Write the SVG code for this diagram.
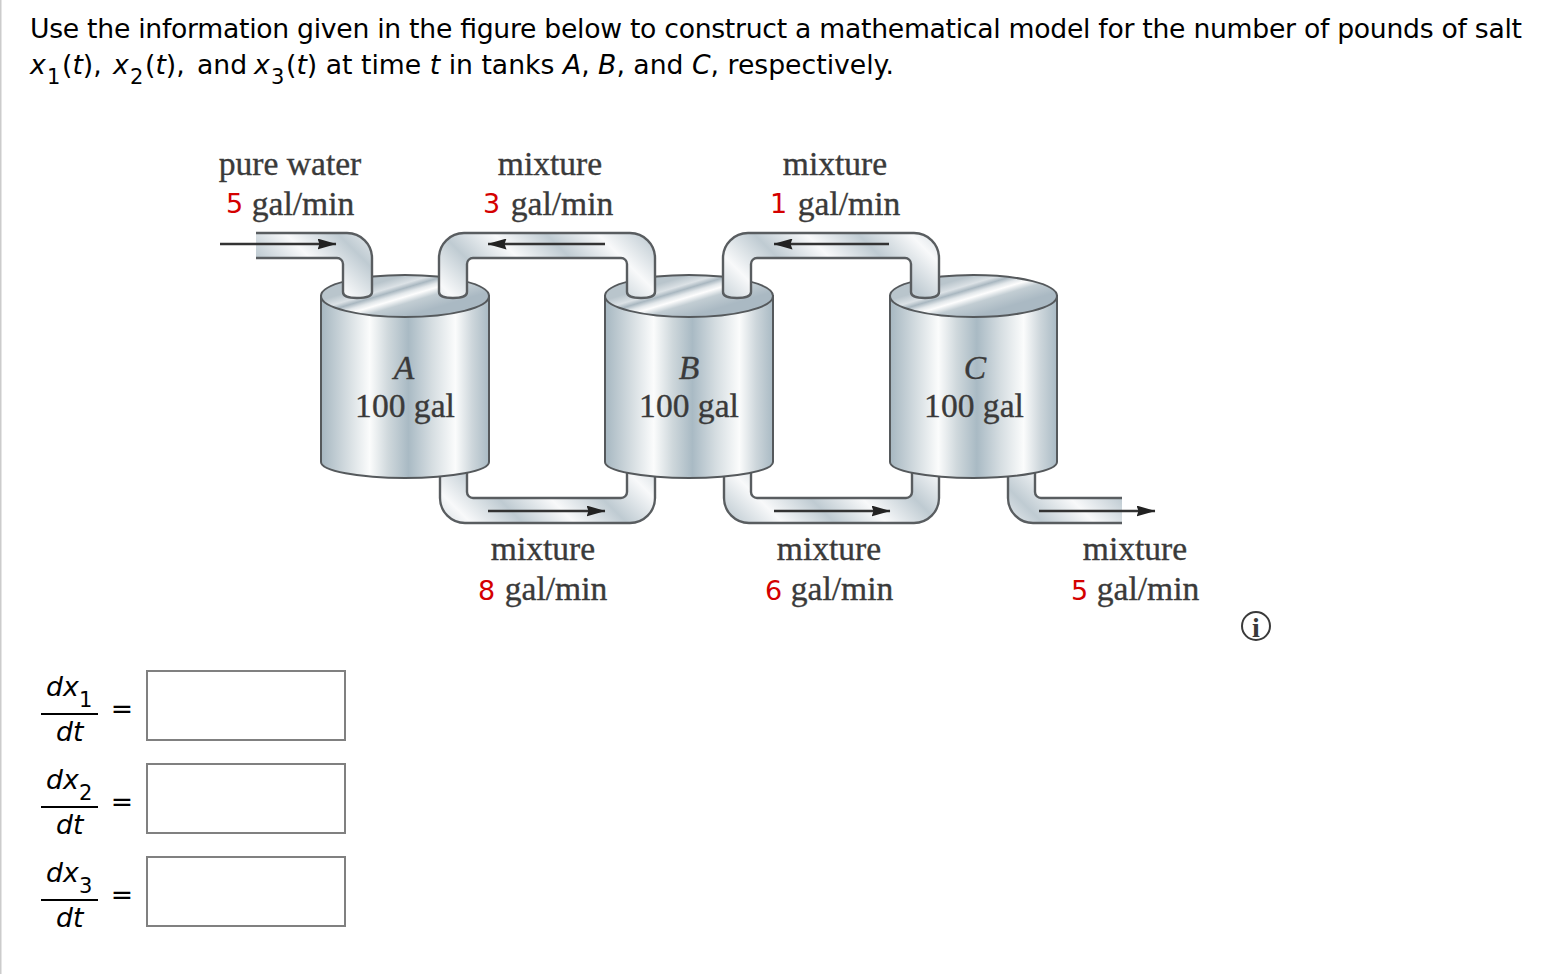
<svg xmlns="http://www.w3.org/2000/svg" width="1548" height="974" viewBox="0 0 1548 974">
<style>
.s{font-family:"DejaVu Sans","Liberation Sans",sans-serif;fill:#000}
.t{font-size:26.67px}
.i{font-style:italic}
.sub{font-size:21px}
.f{font-family:"Liberation Serif",serif;font-size:33.6px;fill:#3a3a3a;stroke:#3a3a3a;stroke-width:.35}
.r{font-family:"DejaVu Sans",sans-serif;font-size:27px;fill:#d40000}
.pipe{stroke:#595d60;stroke-width:2.4;stroke-linejoin:round}
.body{fill:url(#tank);stroke:#55595c;stroke-width:2}
.arr{fill:none;stroke:#333;stroke-width:2.6;marker-end:url(#ah)}
.box{fill:#fff;stroke:#808080;stroke-width:2}
.bar{stroke:#000;stroke-width:2}
</style>
<defs>
<linearGradient id="tank" x1="0" x2="1" y1="0" y2="0">
<stop offset="0" stop-color="#a6b7c1"/><stop offset=".16" stop-color="#d5dde1"/><stop offset=".29" stop-color="#fbfcfc"/><stop offset=".4" stop-color="#cfd8dc"/><stop offset=".52" stop-color="#a9bac4"/><stop offset=".66" stop-color="#d5dde1"/><stop offset=".8" stop-color="#fbfcfc"/><stop offset=".9" stop-color="#cdd6db"/><stop offset="1" stop-color="#a9bac4"/>
</linearGradient>
<linearGradient id="lidA" gradientUnits="userSpaceOnUse" x1="399.200" y1="276.700" x2="410.800" y2="315.300">
<stop offset="0" stop-color="#b9c5cc"/><stop offset=".2" stop-color="#dce2e6"/><stop offset=".31" stop-color="#a9b7c0"/><stop offset=".42" stop-color="#e2e7ea"/><stop offset=".52" stop-color="#fdfdfd"/><stop offset=".68" stop-color="#c2cdd3"/><stop offset="1" stop-color="#aab9c3"/>
</linearGradient>
<linearGradient id="lidB" href="#lidA" gradientTransform="translate(284 0)"/>
<linearGradient id="lidC" href="#lidA" gradientTransform="translate(568.500 0)"/>
<linearGradient id="pipeH" gradientUnits="userSpaceOnUse" x1="0" y1="0" x2="26" y2="-26" spreadMethod="reflect">
<stop offset="0" stop-color="#bfcbd2"/><stop offset="1" stop-color="#f8f9fa"/>
</linearGradient>
<marker id="ah" viewBox="0 0 19 11" refX="18.500" refY="5.500" markerWidth="19" markerHeight="11" markerUnits="userSpaceOnUse" orient="auto"><path d="M0 0L19 5.500L0 11L2 5.500Z" fill="#222"/></marker>
</defs>
<rect width="1548" height="974" fill="#fff"/>
<rect x="0" y="0" width="1.5" height="974" fill="#ccc"/>

<g id="question">
<text class="s t" x="30" y="38" textLength="1492">Use the information given in the figure below to construct a mathematical model for the number of pounds of salt</text>
<text class="s t" y="74"><tspan class="i" x="30">x</tspan><tspan class="sub" x="47" dy="10">1</tspan><tspan x="62" dy="-10">(</tspan><tspan class="i">t</tspan>),<tspan class="i" x="113">x</tspan><tspan class="sub" x="130" dy="10">2</tspan><tspan x="145" dy="-10">(</tspan><tspan class="i">t</tspan>),<tspan x="197">and</tspan><tspan class="i" x="254">x</tspan><tspan class="sub" x="271" dy="10">3</tspan><tspan x="286" dy="-10">(</tspan><tspan class="i">t</tspan>) at time <tspan class="i">t</tspan> in tanks <tspan class="i">A</tspan>, <tspan class="i">B</tspan>, and <tspan class="i">C</tspan>, respectively.</text>
</g>

<g id="connectors-lower">
<path class="pipe" fill="url(#pipeH)" d="M440 470V498A25 25 0 0 0 465 523H630A25 25 0 0 0 655 498V470H627V492A6 6 0 0 1 621 498H473A6 6 0 0 1 467 492V470Z"/>
<path class="pipe" fill="url(#pipeH)" d="M724 470V498A25 25 0 0 0 749 523H914A25 25 0 0 0 939 498V470H912V492A6 6 0 0 1 906 498H757A6 6 0 0 1 751 492V470Z"/>
<path fill="url(#pipeH)" d="M1008 470V498A25 25 0 0 0 1033 523H1122V498H1041A6 6 0 0 1 1035 492V470Z"/>
<path class="pipe" fill="none" d="M1008 470V498A25 25 0 0 0 1033 523H1122M1122 498H1041A6 6 0 0 1 1035 492V470"/>
</g>

<g id="tank-a">
<path class="body" d="M321 296V462A84 16 0 0 0 489 462V296Z"/>
<ellipse fill="url(#lidA)" stroke="#55595c" stroke-width="2" cx="405" cy="296" rx="84" ry="21"/>
<text class="f i" x="404" y="379" text-anchor="middle">A</text>
<text class="f" x="405" y="417" text-anchor="middle">100 gal</text>
</g>
<g id="tank-b">
<path class="body" d="M605 296V462A84 16 0 0 0 773 462V296Z"/>
<ellipse fill="url(#lidB)" stroke="#55595c" stroke-width="2" cx="689" cy="296" rx="84" ry="21"/>
<text class="f i" x="689" y="379" text-anchor="middle">B</text>
<text class="f" x="689" y="417" text-anchor="middle">100 gal</text>
</g>
<g id="tank-c">
<path class="body" d="M890 296V462A83.500 16 0 0 0 1057 462V296Z"/>
<ellipse fill="url(#lidC)" stroke="#55595c" stroke-width="2" cx="973.500" cy="296" rx="83.500" ry="21"/>
<text class="f i" x="975" y="379" text-anchor="middle">C</text>
<text class="f" x="974" y="417" text-anchor="middle">100 gal</text>
</g>

<g id="connectors">
<path fill="url(#pipeH)" d="M256 233H347A25 25 0 0 1 372 258V292Q372 298 357 298Q343 298 343 292V264A6 6 0 0 0 337 258H256Z"/>
<path class="pipe" fill="none" d="M256 233H347A25 25 0 0 1 372 258V292Q372 298 357 298Q343 298 343 292V264A6 6 0 0 0 337 258H256"/>
<path class="pipe" fill="url(#pipeH)" d="M439 292V258A25 25 0 0 1 464 233H630A25 25 0 0 1 655 258V292Q655 298 641 298Q627 298 627 292V264A6 6 0 0 0 621 258H473A6 6 0 0 0 467 264V292Q467 298 453 298Q439 298 439 292Z"/>
<path class="pipe" fill="url(#pipeH)" d="M723 292V258A25 25 0 0 1 748 233H914A25 25 0 0 1 939 258V292Q939 298 925 298Q911 298 911 292V264A6 6 0 0 0 905 258H757A6 6 0 0 0 751 264V292Q751 298 737 298Q723 298 723 292Z"/>
<path class="arr" d="M220 244H336"/>
<path class="arr" d="M605 244H488"/>
<path class="arr" d="M889 244H774"/>
<path class="arr" d="M488 511H605"/>
<path class="arr" d="M774 511H890"/>
<path class="arr" d="M1039 511H1155"/>
</g>

<g id="label-inlet">
<text class="f" x="290" y="175" text-anchor="middle">pure water</text>
<text class="r" x="226" y="213">5</text><text class="f" x="303" y="215" text-anchor="middle">gal/min</text>
</g>
<g id="label-ba">
<text class="f" x="550" y="175" text-anchor="middle">mixture</text>
<text class="r" x="483" y="213">3</text><text class="f" x="562" y="215" text-anchor="middle">gal/min</text>
</g>
<g id="label-cb">
<text class="f" x="835" y="175" text-anchor="middle">mixture</text>
<text class="r" x="770" y="213">1</text><text class="f" x="849" y="215" text-anchor="middle">gal/min</text>
</g>
<g id="label-ab">
<text class="f" x="543" y="560" text-anchor="middle">mixture</text>
<text class="r" x="478" y="600">8</text><text class="f" x="556" y="600" text-anchor="middle">gal/min</text>
</g>
<g id="label-bc">
<text class="f" x="829" y="560" text-anchor="middle">mixture</text>
<text class="r" x="765" y="600">6</text><text class="f" x="842" y="600" text-anchor="middle">gal/min</text>
</g>
<g id="label-out">
<text class="f" x="1135" y="560" text-anchor="middle">mixture</text>
<text class="r" x="1071" y="600">5</text><text class="f" x="1148" y="600" text-anchor="middle">gal/min</text>
</g>

<g id="info">
<circle cx="1256" cy="626" r="14" fill="#fff" stroke="#3a3a3a" stroke-width="2"/>
<text x="1256" y="637" text-anchor="middle" font-family="Liberation Serif,serif" font-weight="bold" font-size="28" fill="#3a3a3a">i</text>
</g>

<g id="eq1">
<text class="s t i" x="46" y="696">dx</text><text class="s sub" x="79" y="707">1</text>
<line class="bar" x1="41" x2="98" y1="714" y2="714"/>
<text class="s t i" x="56" y="741">dt</text>
<text class="s t" x="122" y="718" text-anchor="middle">=</text>
<rect class="box" x="147" y="671" width="198" height="69"/>
</g>
<g id="eq2">
<text class="s t i" x="46" y="789">dx</text><text class="s sub" x="79" y="800">2</text>
<line class="bar" x1="41" x2="98" y1="807" y2="807"/>
<text class="s t i" x="56" y="834">dt</text>
<text class="s t" x="122" y="811" text-anchor="middle">=</text>
<rect class="box" x="147" y="764" width="198" height="69"/>
</g>
<g id="eq3">
<text class="s t i" x="46" y="882">dx</text><text class="s sub" x="79" y="893">3</text>
<line class="bar" x1="41" x2="98" y1="900" y2="900"/>
<text class="s t i" x="56" y="927">dt</text>
<text class="s t" x="122" y="904" text-anchor="middle">=</text>
<rect class="box" x="147" y="857" width="198" height="69"/>
</g>
</svg>
